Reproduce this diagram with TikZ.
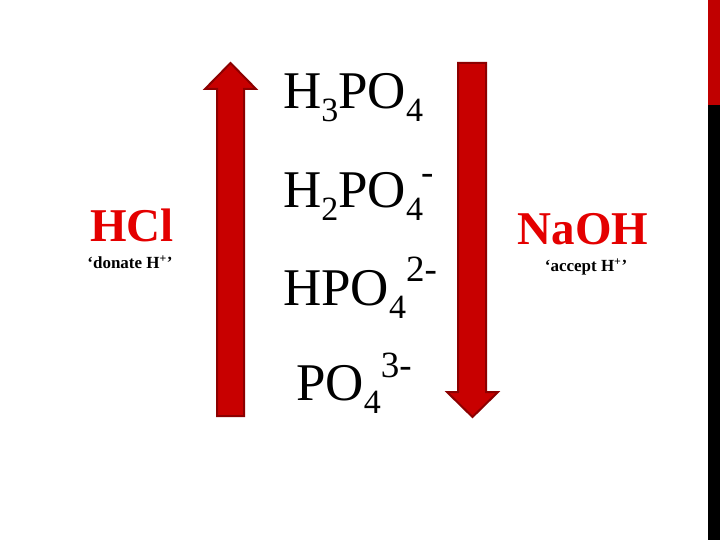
\documentclass[tikz,border=0pt]{standalone}
\usepackage{fontspec}
\setmainfont{Liberation Serif}
\definecolor{arrowfill}{RGB}{200,0,0}
\definecolor{arrowedge}{RGB}{140,0,0}
\definecolor{barred}{RGB}{192,0,0}
\definecolor{labelred}{RGB}{228,0,0}
\newcommand{\mysub}[1]{\raisebox{-13bp}{\fontsize{34bp}{34bp}\selectfont #1}}
\newcommand{\mysup}[1]{\raisebox{23bp}{\fontsize{37bp}{37bp}\selectfont #1}}
\tikzset{
  formula/.style={inner sep=0pt, anchor=base west, font=\fontsize{53bp}{53bp}\selectfont},
  acid/.style={inner sep=0pt, anchor=base, text=labelred, font=\fontsize{47bp}{47bp}\selectfont\bfseries},
  note/.style={inner sep=0pt, anchor=base, font=\fontsize{17bp}{17bp}\selectfont\bfseries},
  blockarrow/.style={fill=arrowfill, draw=arrowedge, line width=2bp, line join=miter}
}
\begin{document}
\begin{tikzpicture}[x=1bp,y=-1bp]
\useasboundingbox (0,0) rectangle (720,540);
\fill[white] (0,0) rectangle (720,540);
% right edge bar
\fill[barred] (708,0) rectangle (720,105);
\fill[black] (708,105) rectangle (720,540);
% up arrow
\path[blockarrow] (217,416) -- (217,89) -- (205,89) -- (230.5,63) -- (256,89) -- (244,89) -- (244,416) -- cycle;
% down arrow
\path[blockarrow] (458,63) -- (486,63) -- (486,392) -- (498,392) -- (472.5,417) -- (447,392) -- (458,392) -- cycle;
% formulas
\node[formula] (h3po4) at (283,109) {H\mysub{3}PO\mysub{4}};
\node[formula] (h2po4) at (283,208) {H\mysub{2}PO\mysub{4}\kern-2bp\mysup{-}};
\node[formula] (hpo4) at (283,305) {HPO\mysub{4}\mysup{2-}};
\node[formula] (po4) at (296,400) {PO\mysub{4}\mysup{3-}};
% acid / base
\node[acid] (hcl) at (132,242) {HCl};
\node[note] (donate) at (130,269) {‘donate H\textsuperscript{+}’};
\node[acid] (naoh) at (583,245) {NaOH};
\node[note] (accept) at (586,272) {‘accept H\textsuperscript{+}’};
\end{tikzpicture}
\end{document}
